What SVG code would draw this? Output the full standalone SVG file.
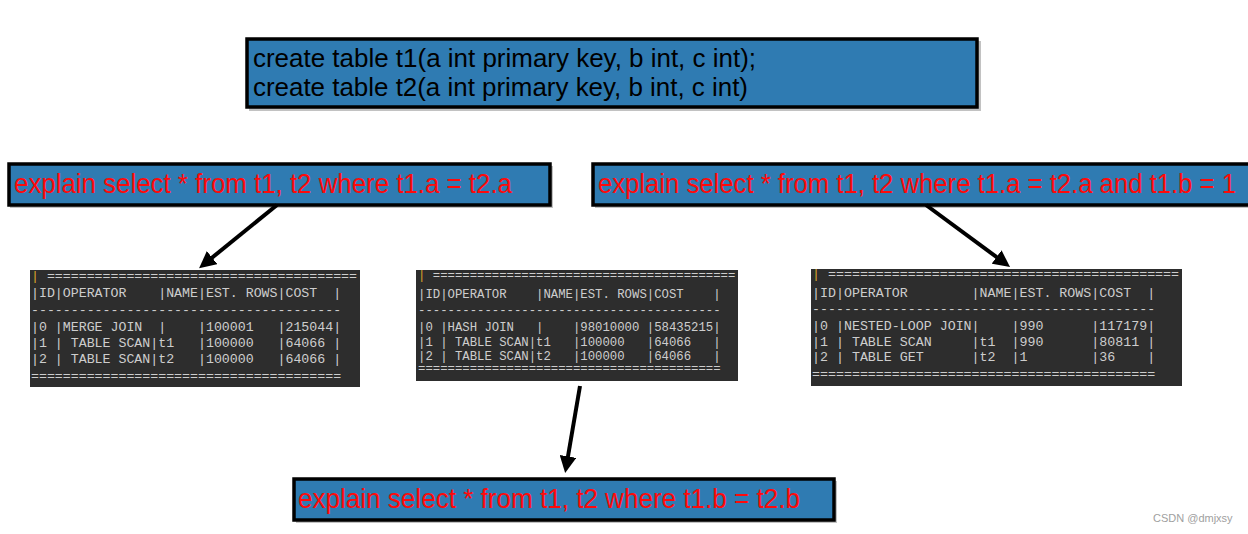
<svg xmlns="http://www.w3.org/2000/svg" width="1248" height="534" viewBox="0 0 1248 534">
<defs>
<style>
.box{fill:#2f7bb2;stroke:#000;stroke-width:3.5}
.shadow{fill:#9a9a9a;opacity:0.6}
.blk{font-family:"Liberation Sans","Noto Sans",Arial,sans-serif;font-size:26px;fill:#000}
.red{font-family:"Liberation Sans","Noto Sans",Arial,sans-serif;font-size:28px;fill:#ff0a0a}
.tbl{fill:#2d2d2d}
.mono{font-family:"Liberation Mono","DejaVu Sans Mono",monospace;fill:#cdcdcd;white-space:pre}
.org{fill:#d6a12a}
.conn{stroke:#000;stroke-width:4;fill:none;marker-end:url(#ah)}
.wm{font-family:"Liberation Sans","Noto Sans",Arial,sans-serif;font-size:11px;fill:#a0a0a0}
</style>
<marker id="ah" viewBox="0 0 10 10" refX="7" refY="5" markerWidth="4.2" markerHeight="4.2" orient="auto" markerUnits="strokeWidth">
<path d="M0,0 L10,5 L0,10 z" fill="#000"/>
</marker>
</defs>
<rect width="1248" height="534" fill="#fff"/>

<g id="ddl">
<rect class="shadow" x="249" y="41" width="732" height="70"/>
<rect class="box" x="247" y="39" width="730" height="68"/>
<text class="blk" x="253" y="67" textLength="503" lengthAdjust="spacingAndGlyphs">create table t1(a int primary key, b int, c int);</text>
<text class="blk" x="253" y="96" textLength="495" lengthAdjust="spacingAndGlyphs">create table t2(a int primary key, b int, c int)</text>
</g>

<g id="q1">
<rect class="shadow" x="10" y="166" width="543" height="42"/>
<rect class="box" x="9" y="164" width="541" height="41"/>
<text class="red" x="14" y="193" textLength="498" lengthAdjust="spacingAndGlyphs">explain select * from t1, t2 where t1.a = t2.a</text>
</g>

<g id="q2">
<rect class="shadow" x="595" y="166" width="660" height="42"/>
<rect class="box" x="593" y="164" width="660" height="41"/>
<text class="red" transform="scale(0.88,1)" x="679.5" y="193" textLength="725" lengthAdjust="spacingAndGlyphs">explain select * from t1, t2 where t1.a = t2.a and t1.b = 1</text>
</g>

<g id="q3">
<rect class="shadow" x="296" y="481" width="541" height="42"/>
<rect class="box" x="294" y="479" width="540" height="41"/>
<text class="red" x="298" y="508" textLength="502" lengthAdjust="spacingAndGlyphs">explain select * from t1, t2 where t1.b = t2.b</text>
</g>

<g id="plan1">
<rect class="tbl" x="30" y="270" width="330" height="117"/>
<text class="mono" font-size="13.25" xml:space="preserve"><tspan x="31" y="280"><tspan class="org">|</tspan> =======================================</tspan><tspan x="31" y="297">|ID|OPERATOR    |NAME|EST. ROWS|COST  |</tspan><tspan x="31" y="314">---------------------------------------</tspan><tspan x="31" y="331">|0 |MERGE JOIN  |    |100001   |215044|</tspan><tspan x="31" y="347">|1 | TABLE SCAN|t1   |100000   |64066 |</tspan><tspan x="31" y="363">|2 | TABLE SCAN|t2   |100000   |64066 |</tspan><tspan x="31" y="380">=======================================</tspan></text>
</g>

<g id="plan2">
<rect class="tbl" x="416" y="270" width="322" height="111"/>
<text class="mono" font-size="12.3" xml:space="preserve"><tspan x="418" y="279"><tspan class="org">|</tspan> =========================================</tspan><tspan x="418" y="298">|ID|OPERATOR    |NAME|EST. ROWS|COST    |</tspan><tspan x="418" y="314">-----------------------------------------</tspan><tspan x="418" y="331">|0 |HASH JOIN   |    |98010000 |58435215|</tspan><tspan x="418" y="346">|1 | TABLE SCAN|t1   |100000   |64066   |</tspan><tspan x="418" y="360">|2 | TABLE SCAN|t2   |100000   |64066   |</tspan><tspan x="418" y="372">=========================================</tspan></text>
</g>

<g id="plan3">
<rect class="tbl" x="811" y="269" width="371" height="117"/>
<text class="mono" font-size="13.3" xml:space="preserve"><tspan x="812" y="278"><tspan class="org">|</tspan> ============================================</tspan><tspan x="812" y="297">|ID|OPERATOR        |NAME|EST. ROWS|COST  |</tspan><tspan x="812" y="313">-------------------------------------------</tspan><tspan x="812" y="330">|0 |NESTED-LOOP JOIN|    |990      |117179|</tspan><tspan x="812" y="346">|1 | TABLE SCAN     |t1  |990      |80811 |</tspan><tspan x="812" y="361">|2 | TABLE GET      |t2  |1        |36    |</tspan><tspan x="812" y="378">===========================================</tspan></text>
</g>

<g id="connectors">
<line class="conn" x1="277" y1="205" x2="203" y2="265"/>
<line class="conn" x1="926" y1="205" x2="1006" y2="264"/>
<line class="conn" x1="580" y1="386" x2="566" y2="468"/>
</g>

<text class="wm" x="1153" y="522">CSDN @dmjxsy</text>
</svg>
